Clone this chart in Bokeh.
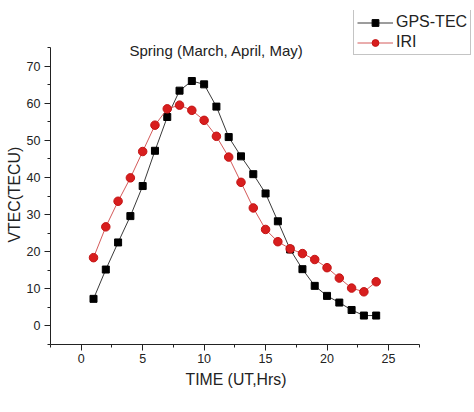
from bokeh.plotting import figure
from bokeh.models import Range1d, Legend, LegendItem, Label, FixedTicker, Title
from bokeh.embed import file_html
from bokeh.resources import INLINE

hours = list(range(1, 25))
gps_tec = [7.3, 15.2, 22.5, 29.6, 37.7, 47.2, 56.3, 63.4, 66.0, 65.1, 59.1, 50.9,
           45.7, 40.9, 35.7, 28.2, 20.6, 15.3, 10.8, 8.1, 6.3, 4.3, 2.8, 2.8]
iri = [18.4, 26.7, 33.6, 39.9, 47.0, 54.1, 58.5, 59.5, 58.1, 55.4, 51.1, 45.5,
       38.7, 31.8, 26.0, 22.7, 20.8, 19.5, 17.9, 15.7, 12.9, 10.2, 9.2, 11.9]
x_ticks = [0, 5, 10, 15, 20, 25]
y_ticks = [0, 10, 20, 30, 40, 50, 60, 70]
x_axis_span = (-2.5, 27.5)
y_axis_span = (-5, 75)

FONT = "Liberation Sans"
INK = "#222222"

# frame extended up/right so the legend (which sits outside the axes box) is not clipped;
# the axes are limited with bounds so they look like the original box
p = figure(width=474, height=412, output_backend="svg", toolbar_location=None,
           x_range=Range1d(-2.5, 32.0), y_range=Range1d(-5, 85),
           min_border_left=50, min_border_top=10, min_border_right=0, min_border_bottom=68)
p.outline_line_color = None
p.grid.visible = False

for ax in (p.xaxis[0], p.yaxis[0]):
    ax.axis_line_color = INK
    ax.major_tick_line_color = INK
    ax.minor_tick_line_color = INK
    ax.major_tick_out = 6
    ax.major_tick_in = 0
    ax.minor_tick_out = 3
    ax.minor_tick_in = 0
    ax.major_label_text_font = FONT
    ax.major_label_text_font_size = "12.5px"
    ax.major_label_text_color = INK

p.xaxis.bounds = x_axis_span
p.yaxis.bounds = y_axis_span
p.xaxis.ticker = FixedTicker(ticks=x_ticks, minor_ticks=[x_axis_span[0] + 2.5 * i for i in range(13)])
p.yaxis.ticker = FixedTicker(ticks=y_ticks, minor_ticks=[y_axis_span[0] + 5 * i for i in range(17)])
p.xaxis.major_label_standoff = 3
p.yaxis.major_label_standoff = 4

# axis titles, centred on the axis lines (not on the extended frame)
xlabel = Title(text="TIME (UT,Hrs)", align="left", offset=135, standoff=6,
               text_font=FONT, text_font_size="15.8px", text_font_style="normal", text_color=INK)
p.add_layout(xlabel, "below")
ylabel = Title(text="VTEC(TECU)", align="left", offset=102, standoff=2,
               text_font=FONT, text_font_size="15.8px", text_font_style="normal", text_color=INK)
p.add_layout(ylabel, "left")

l1 = p.line(hours, gps_tec, line_color="#3a3a3a", line_width=1)
m1 = p.scatter(hours, gps_tec, marker="square", size=7, fill_color="black", line_color="black")
l2 = p.line(hours, iri, line_color="#d45a5a", line_width=1)
m2 = p.scatter(hours, iri, marker="circle", size=8.5, fill_color="#d81e1e", line_color="#c41414")

title = Label(x=166, y=294, x_units="screen", y_units="screen", text="Spring (March, April, May)",
              text_font=FONT, text_font_size="15px", text_color=INK, text_align="center",
              text_baseline="middle")
p.add_layout(title)

legend = Legend(items=[LegendItem(label="GPS-TEC", renderers=[l1, m1]),
                       LegendItem(label="IRI", renderers=[l2, m2])],
                location=(303, 289), orientation="vertical",
                label_text_font=FONT, label_text_font_size="16px", label_text_color=INK,
                glyph_width=36, glyph_height=17, label_height=17, spacing=2, padding=3, margin=0,
                border_line_color="#8a8a8a", border_line_width=1, background_fill_alpha=1,
                label_standoff=3)
p.add_layout(legend, "center")

open("out.html", "w").write(file_html(p, INLINE))
